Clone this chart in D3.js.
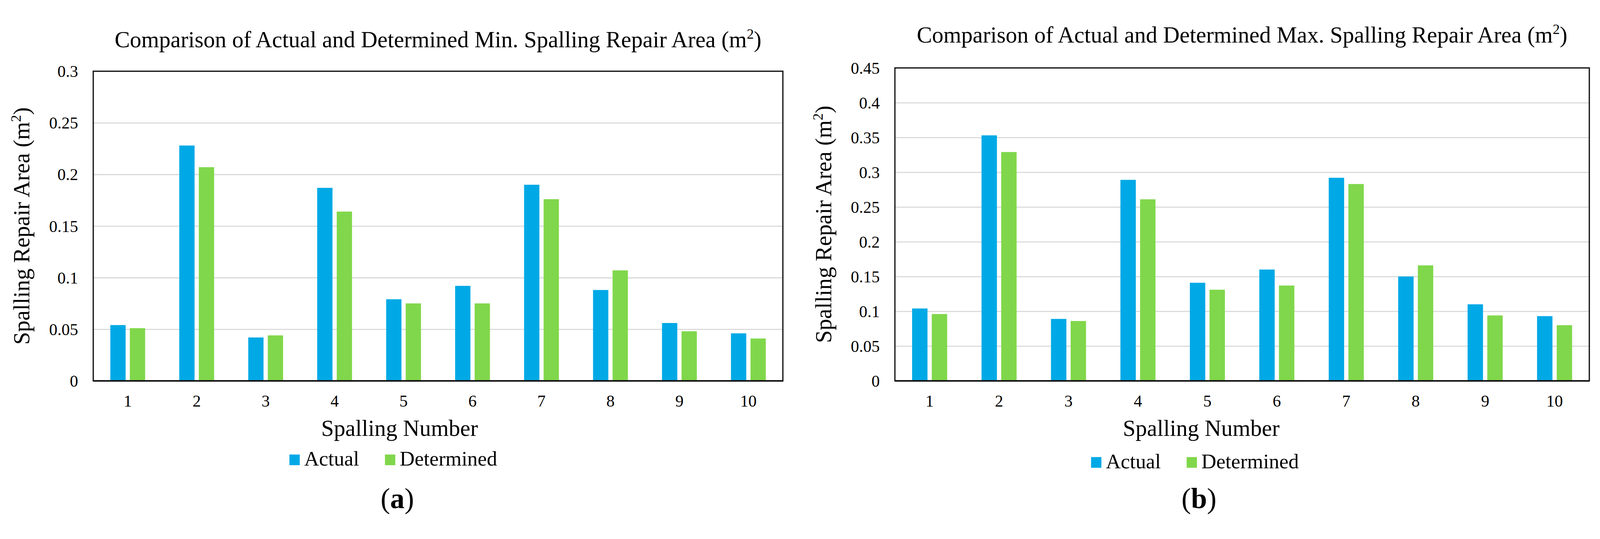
<!DOCTYPE html>
<head>
  <meta charset="utf-8">
  <title>Comparison of Actual and Determined Spalling Repair Area</title>
  <script src="https://d3js.org/d3.v7.min.js"></script>
  <style>
    html, body { margin: 0; width: 100%; height: 100%; overflow: hidden; background: #fff; }
    svg { display: block; width: 100vw; height: 100vh; }
    svg text { font-family: "Liberation Serif", "Times New Roman", serif; fill: #000; }
  </style>
</head>
<body>
<script>

  // data
  let categories = ["1","2","3","4","5","6","7","8","9","10"];
  let seriesNames = ["Actual","Determined"];

  let minActual     = [0.054, 0.228, 0.042, 0.187, 0.079, 0.092, 0.190, 0.088, 0.056, 0.046];
  let minDetermined = [0.051, 0.207, 0.044, 0.164, 0.075, 0.075, 0.176, 0.107, 0.048, 0.041];
  let maxActual     = [0.104, 0.353, 0.089, 0.289, 0.141, 0.160, 0.292, 0.150, 0.110, 0.093];
  let maxDetermined = [0.096, 0.329, 0.086, 0.261, 0.131, 0.137, 0.283, 0.166, 0.094, 0.080];

  let yTicksMin = [0, 0.05, 0.1, 0.15, 0.2, 0.25, 0.3];
  let yTicksMax = [0, 0.05, 0.1, 0.15, 0.2, 0.25, 0.3, 0.35, 0.4, 0.45];

  let colors = ["#00A9E6", "#80D74B"];

  let width = 4341;
  let height = 1380;

  // drawn in a 4341x1380 coordinate box, scaled to whatever the window really is
  let svg = d3.select("body").append("svg")
      .attr("viewBox", "0 0 " + width + " " + height)
      .attr("preserveAspectRatio", "xMidYMid meet");

  // superscript helper for "(m2)"
  function sup_text(sel, main, sup, tail, size) {
    sel.append("tspan").text(main);
    sel.append("tspan").attr("dy", -size*0.38).attr("font-size", size*0.62).text(sup);
    sel.append("tspan").attr("dy", size*0.38).text(tail);
  }

  function draw_panel(p) {
    let g = svg.append("g").attr("id", "panel_" + p.label);

    let x0 = d3.scaleBand().domain(categories).range([p.left, p.right]);
    let x1 = d3.scaleBand().domain(seriesNames).range([0, x0.bandwidth()])
        .paddingInner(0.217).paddingOuter(0.874);
    let y = d3.scaleLinear().domain([0, p.yMax]).range([p.bottom, p.top]);
    let fmt = d3.format("~g");

    // gridlines
    g.append("g")
      .attr("transform", "translate(" + p.left + ",0)")
      .call(d3.axisLeft(y).tickValues(p.ticks).tickSize(-(p.right - p.left)).tickFormat(""))
      .call(a => a.select(".domain").remove())
      .selectAll("line")
        .attr("stroke", "#d9d9d9")
        .attr("stroke-width", 3);

    // bars
    let rows = categories.map((c, i) => ({cat: c, vals: [p.actual[i], p.determined[i]]}));
    g.append("g").selectAll("g")
      .data(rows)
      .enter()
      .append("g")
      .attr("transform", d => "translate(" + x0(d.cat) + ",0)")
      .selectAll("rect")
      .data(d => d.vals.map((v, k) => ({key: seriesNames[k], v: v, k: k})))
      .enter()
      .append("rect")
      .attr("x", d => x1(d.key))
      .attr("width", x1.bandwidth())
      .attr("y", d => y(d.v))
      .attr("height", d => y(0) - y(d.v))
      .attr("fill", d => colors[d.k]);

    // plot frame
    g.append("rect")
      .attr("x", p.left).attr("y", p.top)
      .attr("width", p.right - p.left).attr("height", p.bottom - p.top)
      .attr("fill", "none")
      .attr("stroke", "#1a1a1a")
      .attr("stroke-width", 3.5);

    // y axis labels
    g.append("g")
      .attr("transform", "translate(" + p.left + ",0)")
      .call(d3.axisLeft(y).tickValues(p.ticks).tickSize(0).tickPadding(41).tickFormat(fmt))
      .call(a => a.select(".domain").remove())
      .selectAll("text")
        .attr("font-size", 45)
        .attr("font-family", "Liberation Serif")
        .attr("dy", "0.34em");

    // x axis labels
    g.append("g")
      .attr("transform", "translate(0," + p.bottom + ")")
      .call(d3.axisBottom(x0).tickSize(0).tickPadding(38))
      .call(a => a.select(".domain").attr("stroke", "#111").attr("stroke-width", 4))
      .selectAll("text")
        .attr("font-size", 45)
        .attr("font-family", "Liberation Serif");

    // title
    g.append("text")
      .attr("x", (p.left + p.right) / 2)
      .attr("y", p.titleY)
      .attr("text-anchor", "middle")
      .attr("font-size", 62)
      .call(t => sup_text(t, p.title + " (m", "2", ")", 62));

    // y axis title
    g.append("text")
      .attr("text-anchor", "middle")
      .attr("font-size", 62)
      .attr("transform", "translate(" + (p.left - 173) + "," + ((p.top + p.bottom) / 2) + ") rotate(-90)")
      .call(t => sup_text(t, "Spalling Repair Area (m", "2", ")", 62));

    // x axis title
    let cx = p.left + 831;
    g.append("text")
      .attr("x", cx)
      .attr("y", 1142)
      .attr("text-anchor", "middle")
      .attr("font-size", 62)
      .text("Spalling Number");

    // legend
    let leg = g.append("g");
    let items = leg.selectAll("g")
      .data(seriesNames)
      .enter()
      .append("g");
    items.append("rect")
      .attr("y", -30).attr("width", 28).attr("height", 29)
      .attr("fill", (d, i) => colors[i]);
    items.append("text")
      .attr("x", 40)
      .attr("font-size", 56)
      .text(d => d);
    let pos = 0;
    items.each(function() {
      d3.select(this).attr("transform", "translate(" + pos + ",0)");
      pos += 40 + d3.select(this).select("text").node().getComputedTextLength() + 70;
    });
    let legW = pos - 70;
    leg.attr("transform", "translate(" + (p.left + 814 - legW / 2) + "," + p.legendY + ")");

    // panel label
    let lab = g.append("text")
      .attr("x", cx - 6)
      .attr("y", 1338)
      .attr("text-anchor", "middle")
      .attr("font-size", 78);
    lab.append("tspan").text("(");
    lab.append("tspan").attr("font-weight", "bold").text(p.label);
    lab.append("tspan").text(")");
  }

  draw_panel({
    label: "a",
    title: "Comparison of Actual and Determined Min. Spalling Repair Area",
    actual: minActual, determined: minDetermined,
    yMax: 0.3, ticks: yTicksMin,
    left: 253, right: 2124, top: 152, bottom: 992,
    titleY: 87, legendY: 1222
  });

  draw_panel({
    label: "b",
    title: "Comparison of Actual and Determined Max. Spalling Repair Area",
    actual: maxActual, determined: maxDetermined,
    yMax: 0.45, ticks: yTicksMax,
    left: 2428, right: 4312, top: 143, bottom: 992,
    titleY: 74, legendY: 1229
  });

</script>
</body>
